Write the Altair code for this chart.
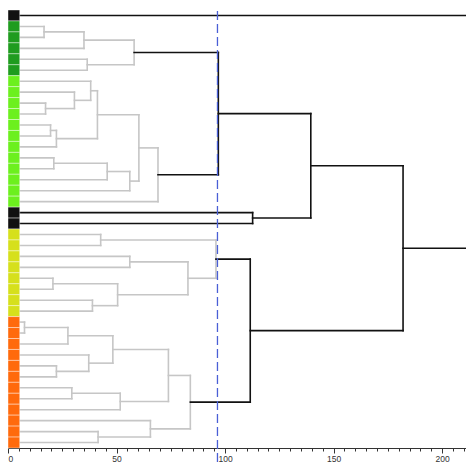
import altair as alt
import pandas as pd

# ---- data ----
# leaf groups, top to bottom (40 leaves)
leaf_groups = (["black"] + ["dkgreen"] * 5 + ["ltgreen"] * 12 + ["black"] * 2
               + ["yellow"] * 8 + ["orange"] * 12)
group_colors = {"black": "#111111", "dkgreen": "#1f9c1f", "ltgreen": "#6cf01e",
                "yellow": "#d6e01c", "orange": "#ff6a0c"}

# merges (children listed before parents): name, left child, right child, height
merge_names = ["L", "M", "N", "O", "A", "B", "C", "D", "E", "F", "G", "H", "I", "J", "K",
               "P", "Q", "R", "S", "T", "U", "V", "W", "X", "Y",
               "a", "b", "c", "d", "e", "f", "g", "h", "i", "j", "k", "Z", "AA", "ROOT"]
merge_left = [1, "L", 4, "M", 8, 7, 6, 10, "D", "C", 13, "G", "H", "F", "J",
              "O", 18, "P", 20, 22, 24, 26, "U", "T", "S",
              28, "a", 32, 31, "b", 34, "f", "e", 38, 37, "h", "Y", "R", 0]
merge_right = [2, 3, 5, "N", 9, "A", "B", 11, 12, "E", 14, 15, 16, "I", 17,
               "K", 19, "Q", 21, 23, 25, 27, "V", "W", "X",
               29, 30, 33, "c", "d", 35, 36, "g", 39, "i", "j", "k", "Z", "AA"]
merge_height = [16.6, 35.0, 36.5, 58.1, 17.3, 30.6, 38.1, 19.6, 22.3, 41.2, 21.1, 45.7,
                56.1, 60.3, 69.1, 96.9, 112.7, 139.5, 42.7, 56.1, 20.7, 38.9, 50.5,
                82.9, 95.8, 7.6, 27.6, 22.3, 37.2, 48.3, 29.4, 51.7, 73.9, 41.5, 65.6,
                84.0, 111.6, 182.0, 235.0]
cluster_roots = ["O", "K", "Y", "k"]   # below these the links are grey
cut_level = [96.5]
tick_values = list(range(0, 215, 5))

# ---- layout (dendrogram geometry computed from the merges) ----
XMAX = 211.0
STRIP_W = 5.4
GREY = "#c6c6c6"
BLACK = "#111111"

node_y, node_h, children = {}, {}, {}
for n, l, r, h in zip(merge_names, merge_left, merge_right, merge_height):
    children[n] = (l, r)
    node_h[n] = h


def ypos(c):
    return float(c) if isinstance(c, int) else node_y[c]


def hpos(c):
    return 0.0 if isinstance(c, int) else node_h[c]


for n in merge_names:
    l, r = children[n]
    node_y[n] = (ypos(l) + ypos(r)) / 2

grey_nodes = set()
stack = list(cluster_roots)
while stack:
    n = stack.pop()
    grey_nodes.add(n)
    for c in children[n]:
        if isinstance(c, str):
            stack.append(c)

segs = []
for n in merge_names:
    col = GREY if n in grey_nodes else BLACK
    order = 0 if col == GREY else 1
    l, r = children[n]
    h = node_h[n]
    segs.append(dict(x=h, x2=h, y=ypos(l), y2=ypos(r), col=col, o=order))
    for c in (l, r):
        segs.append(dict(x=hpos(c), x2=h, y=ypos(c), y2=ypos(c), col=col, o=order))
seg_df = pd.DataFrame(segs).sort_values("o", kind="stable")

strip_df = pd.DataFrame({
    "i": list(range(len(leaf_groups))),
    "col": [group_colors[g] for g in leaf_groups],
})
strip_df["y0"] = strip_df["i"] - 0.5
strip_df["y1"] = strip_df["i"] + 0.5
strip_df["x0"] = 0.0
strip_df["x1"] = STRIP_W

xscale = alt.Scale(domain=[0, XMAX], nice=False, zero=False)
yscale = alt.Scale(domain=[-0.5, len(leaf_groups) - 0.5], reverse=True, nice=False, zero=False)
xaxis = alt.Axis(
    values=tick_values,
    labelExpr="datum.value % 50 === 0 ? datum.label : ''",
    tickSize={"condition": {"test": "datum.value % 50 === 0", "value": 5}, "value": 3},
    domainColor="#333333", tickColor="#333333", labelColor="#333333",
    labelFont="Liberation Sans", labelFontSize=8.5, labelPadding=1,
    grid=False, title=None, labelFlush=True, labelOverlap=False,
)

links = alt.Chart(seg_df).mark_rule(clip=True, strokeWidth=1.6, strokeCap="square").encode(
    x=alt.X("x:Q", scale=xscale, axis=xaxis),
    x2="x2:Q",
    y=alt.Y("y:Q", scale=yscale, axis=None),
    y2="y2:Q",
    color=alt.Color("col:N", scale=None),
)

strip = alt.Chart(strip_df).mark_rect(stroke="white", strokeWidth=1, strokeOpacity=0.4).encode(
    x=alt.X("x0:Q", scale=xscale, axis=xaxis),
    x2="x1:Q",
    y=alt.Y("y0:Q", scale=yscale, axis=None),
    y2="y1:Q",
    color=alt.Color("col:N", scale=None),
)

cut = alt.Chart(pd.DataFrame({"cut": cut_level})).mark_rule(
    color="#4a5fd6", strokeWidth=1.3, strokeDash=[9, 4]
).encode(
    x=alt.X("cut:Q", scale=xscale, axis=xaxis),
    y=alt.value(-12),
    y2=alt.value(452),
)

chart = alt.layer(links, strip, cut).properties(
    width=458, height=438,
    autosize=alt.AutoSizeParams(type="none"),
    padding={"left": 0, "top": 2, "right": 0, "bottom": 22},
    background="white",
).configure_view(stroke=None)

chart.save("out.html", embed_options={"renderer": "svg", "actions": False})
